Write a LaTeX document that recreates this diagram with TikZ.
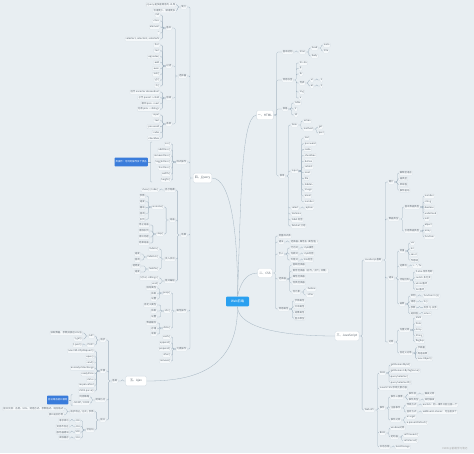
\documentclass[tikz,border=0pt]{standalone}
\usepackage{fontspec}
\setmainfont{Noto Sans CJK SC}
\usetikzlibrary{positioning}
\definecolor{mapbg}{HTML}{E8EEF2}
\definecolor{maplink}{HTML}{A3B3C0}
\definecolor{leafline}{HTML}{D3DCE3}
\definecolor{leaffill}{HTML}{F5F8FA}
\definecolor{rootblue}{HTML}{2AA0F0}
\definecolor{sumblue}{HTML}{3A7CDB}
\definecolor{inkgray}{HTML}{5E6973}
\tikzset{
  leaf/.style={rectangle, rounded corners=0.8pt, draw=leafline, fill=leaffill, line width=0.2pt,
               inner xsep=0.7pt, inner ysep=0.3pt, minimum height=4.2pt, text=inkgray,
               font=\fontsize{2.4}{2.8}\selectfont},
  leafr/.style={leaf, anchor=west},
  leafl/.style={leaf, anchor=east},
  branch/.style={rectangle, rounded corners=1.5pt, draw=leafline, fill=white, line width=0.3pt,
                 inner xsep=1.6pt, minimum height=7pt, text=inkgray, font=\fontsize{3}{3.5}\selectfont},
  rootbox/.style={rectangle, rounded corners=1pt, fill=rootblue, text=white, minimum width=23pt,
                  minimum height=7.5pt, font=\fontsize{3.2}{3.8}\selectfont},
  sumbox/.style={rectangle, rounded corners=0.8pt, fill=sumblue, text=white, inner xsep=1pt,
                 minimum height=4.8pt, font=\fontsize{2.4}{2.8}\selectfont, anchor=east},
  link/.style={draw=maplink, line width=0.3pt, rounded corners=1.2pt},
  rto/.style={to path={(\tikztostart.east) -- ++(3,0) |- (\tikztotarget.west)}},
  lto/.style={to path={(\tikztostart.west) -- ++(-3,0) |- (\tikztotarget.east)}},
}

\begin{document}
\begin{tikzpicture}[x=1pt, y=-1pt]
\fill[mapbg] (0,0) rectangle (474,453);
\useasboundingbox (0,0) rectangle (474,453);

% centre and main branches
\node[rootbox] (root) at (237.5,301.5) {Web前端};
\node[branch] (html) at (265,115) {一、HTML};
\node[branch] (css) at (265,273) {二、CSS};
\node[branch] (js) at (347,336) {三、JavaScript};
\node[branch] (jq) at (202.5,178) {四、jQuery};
\node[branch, minimum width=21pt] (ajax) at (136,381) {五、Ajax};
\draw[link] (root.north) .. controls (241,200) and (241,118) .. (html.west);
\draw[link] (root.north) .. controls (240,285) and (245,273) .. (css.west);
\draw[link] (jq.east) .. controls (232,178) and (238,240) .. (root.north);
\draw[link] (root.south) .. controls (238,330) and (290,336) .. (js.west);
\draw[link] (root.south) .. controls (238,372) and (190,381) .. (ajax.east);

% HTML
\node[leafr] (h1) at (282,52) {基本结构};
\node[leafr] (h1a) at (299,52) {html};
\node[leafr] (h1b) at (311,48) {head};
\node[leafr] (h1c) at (311,56) {body};
\node[leafr] (h1d) at (323,45) {meta};
\node[leafr] (h1e) at (323,51) {title};
\draw[link] (html) to[rto] (h1) (h1) to[rto] (h1a) (h1a) to[rto] (h1b) (h1a) to[rto] (h1c)
            (h1b) to[rto] (h1d) (h1b) to[rto] (h1e);
\node[leafr] (h2) at (282,80) {常用标签};
\node[leafr] (h2a) at (299,63) {h1\textasciitilde h6};
\node[leafr] (h2b) at (299,68.5) {p};
\node[leafr] (h2c) at (299,74) {br};
\node[leafr] (h2d) at (299,83) {列表};
\node[leafr] (h2e) at (299,92) {img};
\node[leafr] (h2f) at (299,98) {a};
\node[leafr] (h2g) at (310,80) {ul};
\node[leafr] (h2h) at (310,86) {ol};
\node[leafr] (h2i) at (320,80) {li};
\node[leafr] (h2j) at (320,86) {li};
\draw[link] (html) to[rto] (h2) (h2) to[rto] (h2a) (h2) to[rto] (h2b) (h2) to[rto] (h2c)
            (h2) to[rto] (h2d) (h2) to[rto] (h2e) (h2) to[rto] (h2f)
            (h2d) to[rto] (h2g) (h2d) to[rto] (h2h) (h2g) to[rto] (h2i) (h2h) to[rto] (h2j);
\node[leafr] (h3) at (282,109) {表格};
\foreach \t [count=\i] in {table,tr,td}
  {\node[leafr] (h3-\i) at (294,97+6*\i) {\t}; \draw[link] (h3) to[rto] (h3-\i);}
\draw[link] (html) to[rto] (h3);
\node[leafr] (h4) at (279,176) {表单};
\node[leafr] (h4a) at (291,125) {form};
\node[leafr] (h4b) at (291,171) {input};
\node[leafr] (h4c) at (291,208) {select};
\node[leafr] (h4d) at (291,214) {textarea};
\node[leafr] (h4e) at (291,220) {label 标签};
\node[leafr] (h4f) at (291,226) {fieldset 分组};
\node[leafr] (h4g) at (303,121) {action};
\node[leafr] (h4h) at (303,129) {method};
\node[leafr] (h4i) at (318,127) {get};
\node[leafr] (h4j) at (318,133) {post};
\node[leafr] (h4k) at (305,208) {option};
\draw[link] (html) to[rto] (h4) (h4) to[rto] (h4a) (h4) to[rto] (h4b) (h4) to[rto] (h4c)
            (h4) to[rto] (h4d) (h4) to[rto] (h4e) (h4) to[rto] (h4f)
            (h4a) to[rto] (h4g) (h4a) to[rto] (h4h) (h4h) to[rto] (h4i) (h4h) to[rto] (h4j)
            (h4c) to[rto] (h4k);
\foreach \t [count=\i] in {text,password,radio,checkbox,button,submit,reset,file,hidden,image,email,number}
  {\node[leafr] (h4b-\i) at (304,132.2+5.8*\i) {\t}; \draw[link] (h4b) to[rto] (h4b-\i);}

% CSS
\node[leafr] (c1) at (278,236) {层叠样式表};
\node[leafr] (c2) at (278,242) {语法};
\node[leafr] (c2a) at (290,242) {选择器 \{ 属性名: 属性值; \}};
\node[leafr] (c3) at (278,254) {引入};
\node[leafr] (c4) at (278,279) {选择器};
\node[leafr] (c5) at (278,309) {常用属性};
\draw[link] (css) to[rto] (c1) (css) to[rto] (c2) (css) to[rto] (c3) (css) to[rto] (c4)
            (css) to[rto] (c5) (c2) to[rto] (c2a);
\foreach \t/\u [count=\i] in {行内式/style属性,内嵌式/style标签,外链式/link标签}
  {\node[leafr] (c3-\i) at (290,242+6*\i) {\t}; \node[leafr] (c3x-\i) at (303,242+6*\i) {\u};
   \draw[link] (c3) to[rto] (c3-\i) (c3-\i) to[rto] (c3x-\i);}
\foreach \t [count=\i] in {基础选择器,复合选择器（后代 / 子代 / 并集）,属性选择器,伪类选择器}
  {\node[leafr] (c4-\i) at (292,259+6*\i) {\t}; \draw[link] (c4) to[rto] (c4-\i);}
\node[leafr] (c4e) at (292,292) {伪元素};
\node[leafr] (c4f) at (306,289) {::before};
\node[leafr] (c4g) at (306,295) {::after};
\draw[link] (c4) to[rto] (c4e) (c4e) to[rto] (c4f) (c4e) to[rto] (c4g);
\foreach \t [count=\i] in {字体属性,文本属性,背景属性,盒子模型}
  {\node[leafr] (c5-\i) at (294,295.3+5.7*\i) {\t}; \draw[link] (c5) to[rto] (c5-\i);}

% JavaScript
\node[leafr] (s1) at (364,260) {JavaScript基础};
\node[leafr] (s2) at (364,410) {Web API};
\draw[link] (js) to[rto] (s1) (js) to[rto] (s2);
\node[leafr] (t1) at (388,182) {简介};
\node[leafr] (t2) at (388,219) {数据类型};
\node[leafr] (t3) at (388,278) {语法};
\node[leafr] (t4) at (388,342) {对象};
\draw[link] (s1) to[rto] (t1) (s1) to[rto] (t2) (s1) to[rto] (t3) (s1) to[rto] (t4);
\foreach \t [count=\i] in {解释型语言,弱类型,单线程,事件驱动}
  {\node[leafr] (t1-\i) at (399,167.3+5.7*\i) {\t}; \draw[link] (t1) to[rto] (t1-\i);}
\node[leafr] (t2a) at (404,207) {基本数据类型};
\node[leafr] (t2b) at (404,231) {引用数据类型};
\draw[link] (t2) to[rto] (t2a) (t2) to[rto] (t2b);
\foreach \t [count=\i] in {number,string,boolean,undefined,null}
  {\node[leafr] (t2a-\i) at (424,190.25+5.75*\i) {\t}; \draw[link] (t2a) to[rto] (t2a-\i);}
\foreach \t [count=\i] in {object,array,function}
  {\node[leafr] (t2b-\i) at (424,219+6*\i) {\t}; \draw[link] (t2b) to[rto] (t2b-\i);}
\node[leafr] (t3a) at (399,251) {变量};
\node[leafr] (t3b) at (399,266) {运算符};
\node[leafr] (t3c) at (399,280) {流程控制};
\node[leafr] (t3d) at (399,304) {函数};
\node[leafr] (t3e) at (412,266) {+ - * / \%};
\draw[link] (t3) to[rto] (t3a) (t3) to[rto] (t3b) (t3) to[rto] (t3c) (t3) to[rto] (t3d) (t3b) to[rto] (t3e);
\foreach \t [count=\i] in {var,let,const,作用域}
  {\node[leafr] (t3a-\i) at (410,237.3+5.7*\i) {\t}; \draw[link] (t3a) to[rto] (t3a-\i);}
\foreach \t [count=\i] in {if-else 条件判断,switch 多分支,while 循环,for 循环}
  {\node[leafr] (t3c-\i) at (415,266.3+5.7*\i) {\t}; \draw[link] (t3c) to[rto] (t3c-\i);}
\foreach \t/\u [count=\i] in {声明/function fn()\{\},调用/fn(),参数/形参 与 实参,返回值/return}
  {\node[leafr] (t3d-\i) at (410,290.2+5.8*\i) {\t}; \node[leafr] (t3dx-\i) at (423,290.2+5.8*\i) {\u};
   \draw[link] (t3d) to[rto] (t3d-\i) (t3d-\i) to[rto] (t3dx-\i);}
\node[leafr] (t4a) at (399,330) {内置对象};
\node[leafr] (t4b) at (399,353) {自定义对象};
\draw[link] (t4) to[rto] (t4a) (t4) to[rto] (t4b);
\foreach \t [count=\i] in {Math,Date,Array,String,RegExp}
  {\node[leafr] (t4a-\i) at (415,312.2+5.8*\i) {\t}; \draw[link] (t4a) to[rto] (t4a-\i);}
\foreach \t [count=\i] in {字面量,构造函数,new Object()}
  {\node[leafr] (t4b-\i) at (417,341.8+5.7*\i) {\t}; \draw[link] (t4b) to[rto] (t4b-\i);}
\node[leafr] (u1) at (379,373) {DOM};
\node[leafr] (u2) at (379,388) {innerHTML 修改元素内容};
\node[leafr] (u3) at (379,408) {事件};
\node[leafr] (u4) at (379,433) {BOM};
\node[leafr] (u5) at (379,447) {本地存储};
\node[leafr] (u5a) at (395,447) {localStorage};
\draw[link] (s2) to[rto] (u1) (s2) to[rto] (u2) (s2) to[rto] (u3) (s2) to[rto] (u4) (s2) to[rto] (u5)
            (u5) to[rto] (u5a);
\foreach \t [count=\i] in {getElementById(),getElementsByTagName(),querySelector(),querySelectorAll()}
  {\node[leafr] (u1-\i) at (390,359.2+5.8*\i) {\t}; \draw[link] (u1) to[rto] (u1-\i);}
\node[leafr] (u3a) at (390,397) {事件三要素};
\node[leafr] (u3b) at (390,408) {注册事件};
\node[leafr] (u3c) at (390,420) {事件对象};
\node[leafr] (u3d) at (408,394) {事件源};
\node[leafr] (u3e) at (408,400) {事件类型};
\node[leafr] (u3f) at (424,394) {触发对象};
\node[leafr] (u3g) at (424,400) {如何触发};
\node[leafr] (u3h) at (406,405) {传统方式};
\node[leafr] (u3i) at (406,412) {监听方式};
\node[leafr] (u3j) at (422,405) {onclick：同一事件只能注册一个};
\node[leafr] (u3k) at (422,412) {addEventListener：可注册多个};
\node[leafr] (u3l) at (406,417) {e.target};
\node[leafr] (u3m) at (406,423) {e.preventDefault()};
\draw[link] (u3) to[rto] (u3a) (u3) to[rto] (u3b) (u3) to[rto] (u3c)
            (u3a) to[rto] (u3d) (u3a) to[rto] (u3e) (u3d) to[rto] (u3f) (u3e) to[rto] (u3g)
            (u3b) to[rto] (u3h) (u3b) to[rto] (u3i) (u3h) to[rto] (u3j) (u3i) to[rto] (u3k)
            (u3c) to[rto] (u3l) (u3c) to[rto] (u3m);
\node[leafr] (u4a) at (390,428) {window对象};
\node[leafr] (u4b) at (390,437) {定时器};
\node[leafr] (u4c) at (403,435) {setTimeout()};
\node[leafr] (u4d) at (403,441) {setInterval()};
\draw[link] (u4) to[rto] (u4a) (u4) to[rto] (u4b) (u4b) to[rto] (u4c) (u4b) to[rto] (u4d);

% jQuery
\node[leafl] (j1) at (187,7) {简介};
\node[leafl] (j2) at (187,76) {选择器};
\node[leafl] (j3) at (187,162) {样式操作};
\node[leafl] (j4) at (187,235) {效果};
\node[leafl] (j5) at (187,311) {属性操作};
\node[leafl] (j6) at (187,349) {元素操作};
\draw[link] (jq) to[lto] (j1) (jq) to[lto] (j2) (jq) to[lto] (j3) (jq) to[lto] (j4) (jq) to[lto] (j5) (jq) to[lto] (j6);
\node[leafl] (j1a) at (176,4.5) {jQuery 是快速简洁的 JS 库};
\node[leafl] (j1b) at (176,10.5) {写得更少，做得更多};
\draw[link] (j1) to[lto] (j1a) (j1) to[lto] (j1b);
\node[leafl] (j2a) at (172,28) {基本};
\node[leafl] (j2b) at (172,66) {过滤};
\node[leafl] (j2c) at (172,98) {层级};
\node[leafl] (j2d) at (172,124) {表单};
\draw[link] (j2) to[lto] (j2a) (j2) to[lto] (j2b) (j2) to[lto] (j2c) (j2) to[lto] (j2d);
\foreach \t [count=\i] in {\#id,.class,element,*,{selector1, selector2, selectorN}}
  {\node[leafl] (j2a-\i) at (160,9+6*\i) {\t}; \draw[link] (j2a) to[lto] (j2a-\i);}
\foreach \t [count=\i] in {:first,:last,:eq(index),:odd,:even,:not(),:gt(),:lt()}
  {\node[leafl] (j2b-\i) at (160,39.15+5.85*\i) {\t}; \draw[link] (j2b) to[lto] (j2b-\i);}
\foreach \t [count=\i] in {后代 ancestor descendant,子代 parent > child,相邻 prev + next,兄弟 prev \textasciitilde\ siblings}
  {\node[leafl] (j2c-\i) at (160,86.3+5.7*\i) {\t}; \draw[link] (j2c) to[lto] (j2c-\i);}
\foreach \t [count=\i] in {:input,:text,:password,:radio,:checkbox}
  {\node[leafl] (j2d-\i) at (160,109.2+5.8*\i) {\t}; \draw[link] (j2d) to[lto] (j2d-\i);}
\foreach \t [count=\i] in {css(),addClass(),removeClass(),toggleClass(),hasClass(),width(),height()}
  {\node[leafl] (j3-\i) at (171,138+6*\i) {\t}; \draw[link] (j3) to[lto] (j3-\i);}
% summary of the class methods
\coordinate (jb1) at (150.5,142);
\coordinate (jb2) at (150.5,182);
\coordinate (jbm) at (150.5,162);
\node[sumbox] (jsum) at (148,162) {类操作：可同时操作多个类名};
\draw[link, rounded corners=0.8pt] (jb1) ++(1.5,0) -- (jb1) -- (jb2) -- ++(1.5,0);
\draw[link] (jbm) -- (jsum.east);
\node[leafl] (j4a) at (175.5,190) {显示隐藏};
\node[leafl] (j4b) at (175.5,220) {动画};
\node[leafl] (j4c) at (175.5,259) {淡入淡出};
\node[leafl] (j4d) at (175.5,281) {链式编程};
\node[leafl] (j4e) at (159,190) {show() / hide()};
\node[leafl] (j4f) at (164,207) {animate()};
\node[leafl] (j4g) at (164,234) {stop()};
\node[leafl] (j4h) at (159,249) {fadeIn()};
\node[leafl] (j4i) at (159,257) {fadeOut()};
\node[leafl] (j4j) at (159,269) {fadeTo()};
\draw[link] (j4) to[lto] (j4a) (j4) to[lto] (j4b) (j4) to[lto] (j4c) (j4) to[lto] (j4d)
            (j4a) to[lto] (j4e) (j4b) to[lto] (j4f) (j4b) to[lto] (j4g)
            (j4c) to[lto] (j4h) (j4c) to[lto] (j4i) (j4c) to[lto] (j4j);
\foreach \t [count=\i] in {参数,速度,缓动,回调,队列}
  {\node[leafl] (j4f-\i) at (145.5,190.2+5.8*\i) {\t}; \draw[link] (j4f) to[lto] (j4f-\i);}
\foreach \t [count=\i] in {停止动画,清除队列,排队问题,结束动画}
  {\node[leafl] (j4g-\i) at (149.5,219+6*\i) {\t}; \draw[link] (j4g) to[lto] (j4g-\i);}
\foreach \t [count=\i] in {速度,回调}
  {\node[leafl] (j4i-\i) at (140.5,248+6*\i) {\t}; \draw[link] (j4i) to[lto] (j4i-\i);}
\foreach \t [count=\i] in {透明度,速度}
  {\node[leafl] (j4j-\i) at (140.5,260+6*\i) {\t}; \draw[link] (j4j) to[lto] (j4j-\i);}
\foreach \t [count=\i] in {\$(this).siblings(),end()}
  {\node[leafl] (j4d-\i) at (159,272.2+5.8*\i) {\t}; \draw[link] (j4d) to[lto] (j4d-\i);}
\node[leafl] (j5a) at (171,293) {prop()};
\node[leafl] (j5b) at (171,311) {attr()};
\node[leafl] (j5c) at (171,328) {data()};
\draw[link] (j5) to[lto] (j5a) (j5) to[lto] (j5b) (j5) to[lto] (j5c);
\foreach \t [count=\i] in {固有属性,获取,设置}
  {\node[leafl] (j5a-\i) at (157,282.5+5.5*\i) {\t}; \draw[link] (j5a) to[lto] (j5a-\i);}
\foreach \t [count=\i] in {自定义属性,获取,设置}
  {\node[leafl] (j5b-\i) at (157,299+6*\i) {\t}; \draw[link] (j5b) to[lto] (j5b-\i);}
\foreach \t [count=\i] in {数据缓存,存储,读取}
  {\node[leafl] (j5c-\i) at (157,317.5+5.5*\i) {\t}; \draw[link] (j5c) to[lto] (j5c-\i);}
\foreach \t [count=\i] in {each(),append(),prepend(),after(),remove()}
  {\node[leafl] (j6-\i) at (171,331+6*\i) {\t}; \draw[link] (j6) to[lto] (j6-\i);}

% Ajax
\node[leafl] (a0) at (118,381) {基础};
\node[leafl] (a1) at (106,340) {请求};
\node[leafl] (a2) at (106,371) {步骤};
\node[leafl] (a3) at (106,400) {跨域访问};
\node[leafl] (a4) at (106,420) {接口};
\draw[link] (ajax) to[lto] (a0) (a0) to[lto] (a1) (a0) to[lto] (a2) (a0) to[lto] (a3) (a0) to[lto] (a4);
\node[leafl] (a1a) at (94.5,336) {GET};
\node[leafl] (a1b) at (94.5,345) {POST};
\node[leafl] (a1c) at (82.5,333) {获取数据，参数拼接在URL后};
\node[leafl] (a1d) at (82.5,339) {\$.get()};
\node[leafl] (a1e) at (82.5,345) {\$.post()};
\draw[link] (a1) to[lto] (a1a) (a1) to[lto] (a1b) (a1a) to[lto] (a1c) (a1a) to[lto] (a1d) (a1b) to[lto] (a1e);
\foreach \t [count=\i] in {new XMLHttpRequest(),open(),send(),onreadystatechange,readyState,status,responseText,JSON.parse()}
  {\node[leafl] (a2-\i) at (94.5,345.3+5.7*\i) {\t}; \draw[link] (a2) to[lto] (a2-\i);}
\node[leafl] (a3a) at (90,397) {同源策略};
\node[leafl] (a3b) at (90,403) {JSONP / CORS};
\draw[link] (a3) to[lto] (a3a) (a3) to[lto] (a3b);
% summary of the cross-domain rules
\coordinate (ab1) at (71,394.5);
\coordinate (ab2) at (71,405.5);
\coordinate (abm) at (71,400);
\node[sumbox] (asum) at (68.5,400) {协议域名端口相同};
\draw[link, rounded corners=0.8pt] (ab1) ++(1.5,0) -- (ab1) -- (ab2) -- ++(1.5,0);
\draw[link] (abm) -- (asum.east);
\node[leafl] (a4a) at (94.5,411.5) {请求地址 / 方式 / 参数};
\node[leafl] (a4b) at (94.5,430) {状态码};
\node[leafl] (a4c) at (64,408.7) {接口文档：名称、URL、调用方式、参数格式、响应格式};
\node[leafl] (a4d) at (64,414.5) {接口返回示例};
\draw[link] (a4) to[lto] (a4a) (a4) to[lto] (a4b) (a4a) to[lto] (a4c) (a4a) to[lto] (a4d);
\foreach \c/\t [count=\i] in {200/请求成功,404/资源不存在,500/服务器错误,304/读取缓存}
  {\node[leafl] (a4b-\i) at (80.5,414.7+5.8*\i) {\c}; \node[leafl] (a4x-\i) at (69.5,414.7+5.8*\i) {\t};
   \draw[link] (a4b) to[lto] (a4b-\i) (a4b-\i) to[lto] (a4x-\i);}

\node[anchor=east, text=gray!70, font=\fontsize{2.6}{3}\selectfont] (mark) at (471,449) {CSDN @前端学习笔记};
\end{tikzpicture}
\end{document}
